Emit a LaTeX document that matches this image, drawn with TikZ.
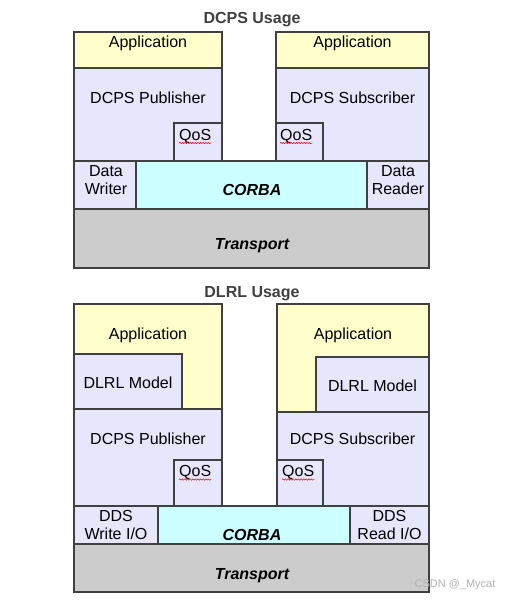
\documentclass[tikz,border=0pt]{standalone}
\usepackage{fontspec}
\setmainfont{Liberation Sans}
\usetikzlibrary{fit,decorations.pathmorphing}
\definecolor{bordc}{HTML}{404040}
\definecolor{appc}{HTML}{FFFFCC}
\definecolor{lavc}{HTML}{E6E6FC}
\definecolor{corbac}{HTML}{CCFFFF}
\definecolor{transc}{HTML}{CCCCCC}
\definecolor{titlec}{HTML}{404040}
\begin{document}
\begin{tikzpicture}[x=1pt,y=-1pt,
  box/.style={draw=bordc,line width=1.2pt,inner sep=0pt},
  lbl/.style={font=\fontsize{16}{18}\selectfont,inner sep=0pt,anchor=base},
  lbl2/.style={font=\fontsize{16}{18}\selectfont,inner sep=0pt,anchor=north,align=center},
  bi/.style={font=\fontsize{16}{18}\selectfont\bfseries\itshape,inner sep=0pt,anchor=base},
  ttl/.style={font=\fontsize{16}{18}\selectfont\bfseries,text=titlec,inner sep=0pt,anchor=base},
  squig/.style={red,line width=0.5pt,decorate,decoration={snake,amplitude=0.7pt,segment length=2.6pt}}]
\useasboundingbox[fill=white] (0,0) rectangle (511,602);

% ---------------- DCPS Usage ----------------
\node[ttl] (t1) at (252,24) {DCPS Usage};
\node[box,fill=appc,fit={(74,32) (222,68)}] (a1) {};
\node[box,fill=appc,fit={(276,32) (429,68)}] (a2) {};
\node[box,fill=lavc,fit={(74,68) (222,161)}] (p1) {};
\node[box,fill=lavc,fit={(276,68) (429,161)}] (s1) {};
\node[box,fill=lavc,fit={(174,123) (222,161)}] (q1) {};
\node[box,fill=lavc,fit={(276,123) (323,161)}] (q2) {};
\node[box,fill=lavc,fit={(74,161) (136,209)}] (dw) {};
\node[box,fill=corbac,fit={(136,161) (367,209)}] (c1) {};
\node[box,fill=lavc,fit={(367,161) (429,209)}] (dr) {};
\node[box,fill=transc,fit={(74,209) (429,268)}] (tr1) {};

\node[lbl] (a1t) at (148,48) {Application};
\node[lbl] (a2t) at (352.5,48) {Application};
\node[lbl] (p1t) at (148,103) {DCPS Publisher};
\node[lbl] (s1t) at (352.5,103) {DCPS Subscriber};
\node[lbl,anchor=base west] (q1t) at (179,140) {QoS};
\node[lbl,anchor=base west] (q2t) at (280,140) {QoS};
\draw[squig] ([yshift=-3pt]q1t.base west) -- ([yshift=-3pt]q1t.base east);
\draw[squig] ([yshift=-3pt]q2t.base west) -- ([yshift=-3pt]q2t.base east);
\node[lbl2] (dwt) at (106,165.5) {Data\\Writer};
\node[lbl2] (drt) at (398,165.5) {Data\\Reader};
\node[bi] (c1t) at (252,195) {CORBA};
\node[bi] (tr1t) at (252,249) {Transport};

% ---------------- DLRL Usage ----------------
\node[ttl] (t2) at (252,297) {DLRL Usage};
\node[box,fill=appc,fit={(74,304) (222,409)}] (a3) {};
\node[box,fill=lavc,fit={(74,354) (182,409)}] (m1) {};
\node[box,fill=appc,fit={(277,304) (429,412)}] (a4) {};
\node[box,fill=lavc,fit={(316,357) (429,412)}] (m2) {};
\node[box,fill=lavc,fit={(74,409) (222,506)}] (p2) {};
\node[box,fill=lavc,fit={(277,412) (429,506)}] (s2) {};
\node[box,fill=lavc,fit={(174,460) (222,506)}] (q3) {};
\node[box,fill=lavc,fit={(277,460) (323,506)}] (q4) {};
\node[box,fill=lavc,fit={(74,506) (158,544)}] (dwio) {};
\node[box,fill=corbac,fit={(158,506) (350,544)}] (c2) {};
\node[box,fill=lavc,fit={(350,506) (429,544)}] (drio) {};
\node[box,fill=transc,fit={(74,544) (429,592)}] (tr2) {};

\node[lbl] (a3t) at (148,339) {Application};
\node[lbl] (a4t) at (353,339) {Application};
\node[lbl] (m1t) at (128,388.5) {DLRL Model};
\node[lbl] (m2t) at (372.5,391) {DLRL Model};
\node[lbl] (p2t) at (148,444) {DCPS Publisher};
\node[lbl] (s2t) at (352.5,444) {DCPS Subscriber};
\node[lbl,anchor=base west] (q3t) at (179,476.5) {QoS};
\node[lbl,anchor=base west] (q4t) at (282,476.5) {QoS};
\draw[squig] ([yshift=-3pt]q3t.base west) -- ([yshift=-3pt]q3t.base east);
\draw[squig] ([yshift=-3pt]q4t.base west) -- ([yshift=-3pt]q4t.base east);
\node[lbl2] (dwiot) at (116,510.5) {DDS\\Write I/O};
\node[lbl2] (driot) at (389.5,510.5) {DDS\\Read I/O};
\node[bi] (c2t) at (252,540) {CORBA};
\node[bi] (tr2t) at (252,579) {Transport};

% watermark
\node[font=\fontsize{11}{13}\selectfont,text=gray!60,inner sep=0pt] (wm) at (455,585) {CSDN @\_Mycat};
\end{tikzpicture}
\end{document}
